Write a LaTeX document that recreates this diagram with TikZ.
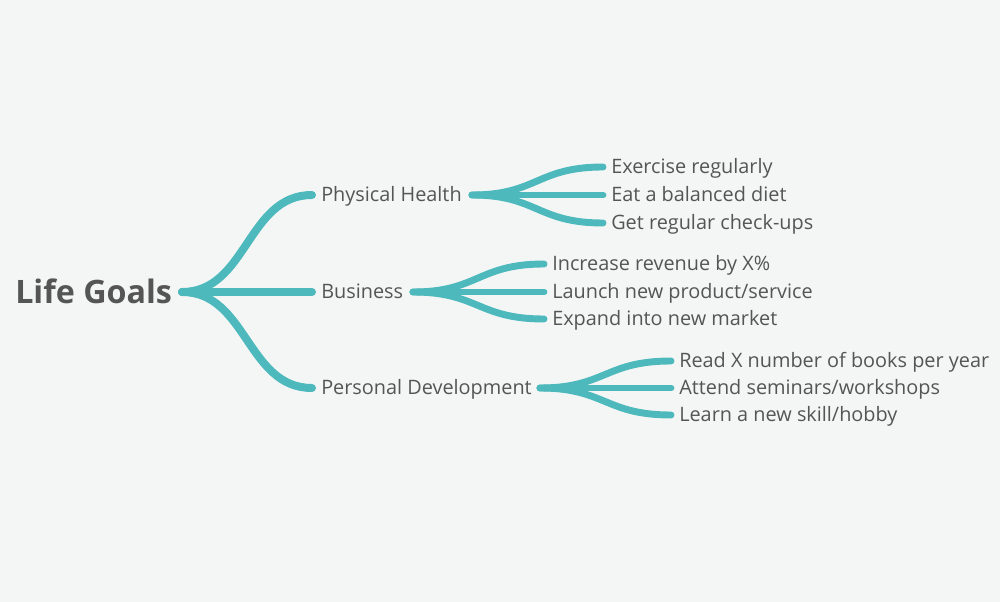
\documentclass[tikz,border=0pt]{standalone}
\usepackage{fontspec}
\setmainfont{Open Sans}
\definecolor{bg}{HTML}{F4F6F6}
\definecolor{br}{HTML}{4DB9BC}
\definecolor{tx}{HTML}{555555}
\begin{document}
\begin{tikzpicture}[x=0.75pt,y=-0.75pt,
  lbl/.style={anchor=base west,inner sep=0pt,text=tx,font=\fontsize{14.9pt}{17pt}\selectfont},
  rootlbl/.style={anchor=base west,inner sep=0pt,text=tx,font=\fontsize{24.2pt}{27pt}\selectfont\bfseries},
  brA/.style={draw=br,line width=6pt,line cap=round},
  brB/.style={draw=br,line width=5.2pt,line cap=round}]
\fill[bg] (0,0) rectangle (1000,602);
\useasboundingbox (0,0) rectangle (1000,602);
% nodes (named coordinates)
\coordinate (r) at (182,292);
\coordinate (a) at (312,195);
\coordinate (b) at (312,292);
\coordinate (c) at (312,388);
\coordinate (a0) at (472,195);
\coordinate (a1) at (603,167);
\coordinate (a2) at (603,195);
\coordinate (a3) at (603,223);
\coordinate (b0) at (413,292);
\coordinate (b1) at (544,264);
\coordinate (b2) at (544,292);
\coordinate (b3) at (544,319);
\coordinate (c0) at (540,388);
\coordinate (c1) at (671,361);
\coordinate (c2) at (671,388);
\coordinate (c3) at (671,415);
% connectors
\draw[brA] (r) .. controls (247,292) and (247,195) .. (a);
\draw[brA] (r) -- (b);
\draw[brA] (r) .. controls (247,292) and (247,388) .. (c);
\draw[brB] (a0) .. controls (537,195) and (537,167) .. (a1);
\draw[brB] (a0) -- (a2);
\draw[brB] (a0) .. controls (537,195) and (537,223) .. (a3);
\draw[brB] (b0) .. controls (478,292) and (478,264) .. (b1);
\draw[brB] (b0) -- (b2);
\draw[brB] (b0) .. controls (478,292) and (478,319) .. (b3);
\draw[brB] (c0) .. controls (605,388) and (605,361) .. (c1);
\draw[brB] (c0) -- (c2);
\draw[brB] (c0) .. controls (605,388) and (605,415) .. (c3);
% labels
\node[rootlbl] (root) at (15,304) {Life Goals};
\node[lbl] (ph) at (321,201.5) {Physical Health};
\node[lbl] (bu) at (321,298.5) {Business};
\node[lbl] (pd) at (321,394.5) {Personal Development};
\node[lbl] (ph1) at (611,173.5) {Exercise regularly};
\node[lbl] (ph2) at (611,201.5) {Eat a balanced diet};
\node[lbl] (ph3) at (611,229.5) {Get regular check-ups};
\node[lbl] (bu1) at (552,270.5) {Increase revenue by X\%};
\node[lbl] (bu2) at (552,298.5) {Launch new product/service};
\node[lbl] (bu3) at (552,325.5) {Expand into new market};
\node[lbl] (pd1) at (679,367.5) {Read X number of books per year};
\node[lbl] (pd2) at (679,394.5) {Attend seminars/workshops};
\node[lbl] (pd3) at (679,421.5) {Learn a new skill/hobby};
\end{tikzpicture}
\end{document}
